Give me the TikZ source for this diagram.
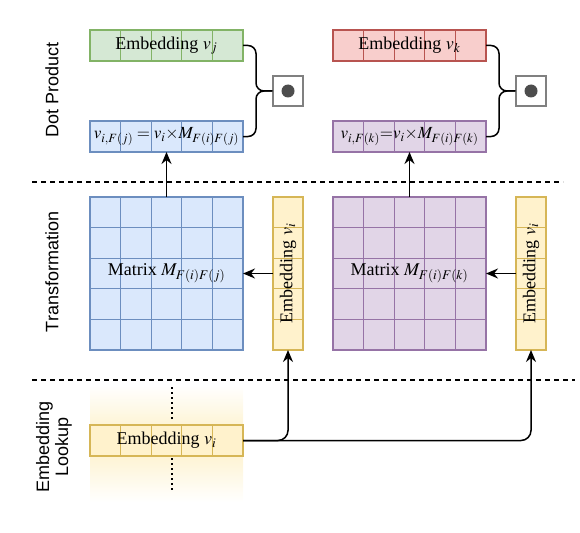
\documentclass[tikz,border=0pt]{standalone}
\usepackage{mathptmx}
\usepackage{fontspec}
\setmainfont{Liberation Serif}
\setsansfont{Liberation Sans}
\usetikzlibrary{arrows.meta,calc}

\definecolor{greenfill}{HTML}{D5E8D4}
\definecolor{greenline}{HTML}{82B366}
\definecolor{bluefill}{HTML}{DAE8FC}
\definecolor{blueline}{HTML}{6C8EBF}
\definecolor{redfill}{HTML}{F8CECC}
\definecolor{redline}{HTML}{B85450}
\definecolor{purplefill}{HTML}{E1D5E7}
\definecolor{purpleline}{HTML}{9673A6}
\definecolor{yellowfill}{HTML}{FFF2CC}
\definecolor{yellowline}{HTML}{D6B656}
\definecolor{glow}{HTML}{FDF0C6}
\definecolor{dotgray}{HTML}{4D4D4D}

\tikzset{
  box/.style={draw=#1line, fill=#1fill, line width=1.3pt, inner sep=0pt, outer sep=0pt,
    font=\fontsize{18}{20}\selectfont},
  hbox/.style={box=#1, minimum width=153pt, minimum height=31pt,
    path picture={\foreach \k in {1,...,4}
      \draw[#1line, line width=1.3pt]
        ($(path picture bounding box.south west)!\k/5!(path picture bounding box.south east)$) --
        ($(path picture bounding box.north west)!\k/5!(path picture bounding box.north east)$);}},
  vbox/.style={box=#1, minimum width=30pt, minimum height=153pt,
    path picture={\foreach \k in {1,...,4}
      \draw[#1line, line width=1.3pt]
        ($(path picture bounding box.south west)!\k/5!(path picture bounding box.north west)$) --
        ($(path picture bounding box.south east)!\k/5!(path picture bounding box.north east)$);}},
  mbox/.style={box=#1, minimum width=153pt, minimum height=153pt,
    path picture={\foreach \k in {1,...,4}{
      \draw[#1line, line width=1.3pt]
        ($(path picture bounding box.south west)!\k/5!(path picture bounding box.south east)$) --
        ($(path picture bounding box.north west)!\k/5!(path picture bounding box.north east)$);
      \draw[#1line, line width=1.3pt]
        ($(path picture bounding box.south west)!\k/5!(path picture bounding box.north west)$) --
        ($(path picture bounding box.south east)!\k/5!(path picture bounding box.north east)$);}}},
  dotbox/.style={draw=gray, fill=white, line width=1.5pt, minimum size=30pt, inner sep=0pt},
  section/.style={rotate=90, font=\sffamily\fontsize{18}{19}\selectfont},
  sep/.style={line width=1.2pt, dash pattern=on 5pt off 4pt},
  brace/.style={line width=1.5pt, rounded corners=8pt},
  conn/.style={line width=1.5pt, -{Stealth[length=12pt,width=10pt]}},
}

\begin{document}
\begin{tikzpicture}[x=1pt, y=-1pt]
    \useasboundingbox (0,0) rectangle (580,532);

    % glow behind the lookup
    \shade[top color=white, bottom color=glow] (90,385) rectangle (243,441);
    \shade[top color=glow, bottom color=white] (90,441) rectangle (243,502);

    % stages
    \node[section] at (52,90) {Dot Product};
    \node[section] at (52,272) {Transformation};
    \node[section, align=center] at (54,447) {Embedding\\Lookup};

    \coordinate (sepa) at (32,182);
    \coordinate (sepb) at (563,182);
    \coordinate (sepc) at (32,380);
    \coordinate (sepd) at (575,380);
    \draw[sep] (sepa) -- (sepb);
    \draw[sep] (sepc) -- (sepd);

    % dot product
    \node[hbox=green] (ej) at (166.5,45.5) {Embedding $v_j$};
    \node[hbox=blue, font=\fontsize{17}{20}\selectfont] (vij) at (166.5,136.5)
        {\makebox[0pt]{$v_{i,F(j)} = v_i{\times}M_{F(i)F(j)}$}};
    \node[hbox=red] (ek) at (409.5,45.5) {Embedding $v_k$};
    \node[hbox=purple, font=\fontsize{17}{20}\selectfont] (vik) at (409.5,136.5)
        {\makebox[0pt]{$v_{i,F(k)}{=}v_i{\times}M_{F(i)F(k)}$}};
    \node[dotbox] (dj) at (288,91) {};
    \node[dotbox] (dk) at (531,91) {};
    \fill[dotgray] (dj) circle (6.5);
    \fill[dotgray] (dk) circle (6.5);

    \draw[brace] (ej.east) -- ++(13,0) |- (dj.west);
    \draw[brace] (vij.east) -- ++(13,0) |- (dj.west);
    \draw[brace] (ek.east) -- ++(13,0) |- (dk.west);
    \draw[brace] (vik.east) -- ++(13,0) |- (dk.west);

    % transformation
    \node[mbox=blue] (mj) at (166.5,273.5) {Matrix $M_{F(i)F(j)}$};
    \node[mbox=purple] (mk) at (409.5,273.5) {Matrix $M_{F(i)F(k)}$};
    \node[vbox=yellow] (eij) at (288,273.5) {\rotatebox{90}{Embedding $v_i$}};
    \node[vbox=yellow] (eik) at (531,273.5) {\rotatebox{90}{Embedding $v_i$}};

    \draw[conn] (mj.north) -- (vij.south);
    \draw[conn] (mk.north) -- (vik.south);
    \draw[conn] (eij.west) -- (mj.east);
    \draw[conn] (eik.west) -- (mk.east);

    % lookup
    \node[hbox=yellow] (ei) at (166.5,440.5) {Embedding $v_i$};
    \coordinate (dota) at (172,387);
    \coordinate (dotb) at (172,419);
    \coordinate (dotc) at (172,458);
    \coordinate (dotd) at (172,490);
    \draw[line width=1.5pt, dash pattern=on 1.5pt off 3.5pt] (dota) -- (dotb);
    \draw[line width=1.5pt, dash pattern=on 1.5pt off 3.5pt] (dotc) -- (dotd);

    \draw[conn, rounded corners=10pt] (ei.east) -| (eij.south);
    \draw[conn, rounded corners=10pt] (ei.east) -| (eik.south);
\end{tikzpicture}
\end{document}
